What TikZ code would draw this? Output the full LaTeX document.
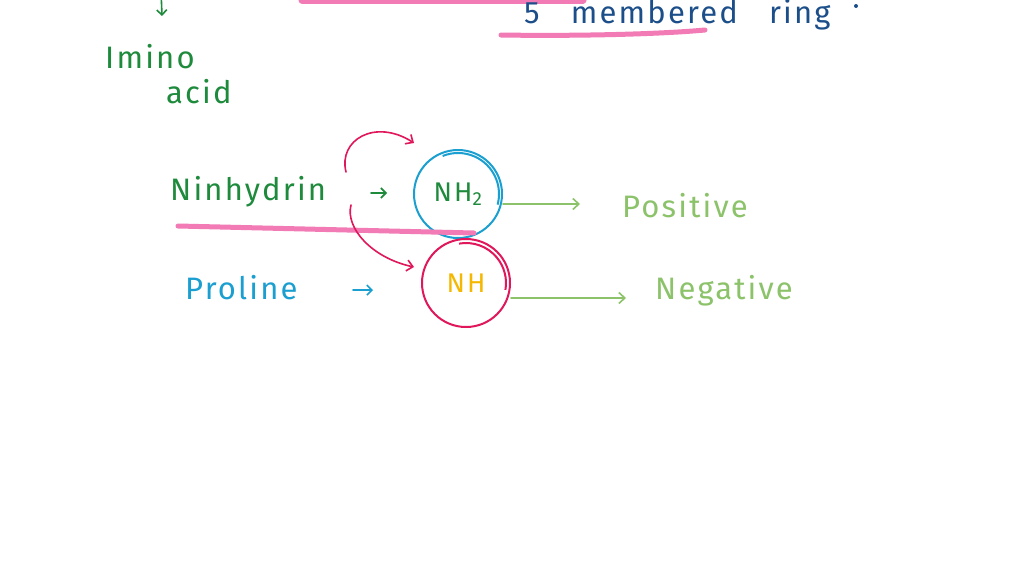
\documentclass[tikz,border=0pt]{standalone}
\usepackage{fontspec}
\setmainfont{Fira Sans}
\usetikzlibrary{arrows.meta}
\definecolor{dgreen}{HTML}{1E8A3C}
\definecolor{lgreen}{HTML}{8CC36A}
\definecolor{lblue}{HTML}{1A9FD0}
\definecolor{rred}{HTML}{E0175A}
\definecolor{hpink}{HTML}{F27BB5}
\definecolor{oyel}{HTML}{F5B800}
\definecolor{dblue}{HTML}{1C4F8A}
\tikzset{
  x=1pt,y=-1pt,
  hand/.style={font=\fontsize{31}{33}\selectfont\addfontfeatures{LetterSpace=7}, inner sep=0pt},
  small/.style={font=\fontsize{27}{29}\selectfont\addfontfeatures{LetterSpace=8}, inner sep=0pt},
  harrow/.style={line width=1.6pt, -{Straight Barb[length=6pt,width=11pt]}, line cap=round},
  sarrow/.style={line width=1.6pt, -{Straight Barb[length=5pt,width=10pt]}, line cap=round},
  hilite/.style={line width=5pt, hpink, line cap=round},
  ring/.style={circle, line width=2pt, minimum size=88pt, inner sep=0pt}
}
\begin{document}
\begin{tikzpicture}
\useasboundingbox (0,0) rectangle (1024,576);
\clip (0,0) rectangle (1024,576);
\fill[white] (0,0) rectangle (1024,576);
% top
\coordinate (ta) at (161,-10);
\coordinate (tb) at (162,16);
\draw[sarrow, dgreen] (ta) -- (tb);
\coordinate (p1) at (302,0);
\coordinate (p2) at (583,0);
\draw[hilite, line width=7pt] (p1) -- (p2);
\node[hand, dblue, anchor=west] (ring) at (524,15) {5\ \ \ membered\ \ \ ring};
\node[circle, fill=dblue, inner sep=0pt, minimum size=4pt] (dot) at (856,6) {};
\coordinate (u1) at (501,35);
\coordinate (u2) at (705,30);
\draw[hilite] (u1) .. controls (560,36) and (650,35) .. (u2);
\node[hand, dgreen, anchor=west] (imino) at (105,57) {Imino};
\node[hand, dgreen, anchor=west] (acid) at (166,92) {acid};
% Ninhydrin row
\node[hand, dgreen, anchor=west] (nin) at (170,192) {Ninhydrin};
\node[ring, draw=lblue] (nh2) at (458,194) {};
\node[small, dgreen] (nh2t) at (nh2) {NH\textsubscript{2}};
\draw[line width=2pt, lblue] (nh2) ++(-112:41) arc[start angle=-112, end angle=15, radius=41];
\coordinate (na) at (371,193);
\coordinate (nb) at (387,193);
\draw[sarrow, dgreen] (na) -- (nb);
\coordinate (pa) at (580,204);
\draw[harrow, lgreen] (nh2.east |- pa) -- (pa);
\node[hand, lgreen, anchor=west] (pos) at (622,206) {Positive};
\coordinate (h1) at (178,226);
\coordinate (h2) at (474,233);
\draw[hilite] (h1) -- (h2);
% Proline row
\node[ring, draw=rred] (nh) at (466,283) {};
\node[small, oyel] (nht) at (nh) {NH};
\draw[line width=2pt, rred] (nh) ++(-100:40) arc[start angle=-100, end angle=10, radius=40];
\node[hand, lblue, anchor=west] (pro) at (185,288) {Proline};
\coordinate (pra) at (353,290);
\coordinate (prb) at (373,290);
\draw[sarrow, lblue] (pra) -- (prb);
\coordinate (ne) at (626,298);
\draw[harrow, lgreen] (nh.east |- ne) -- (ne);
\node[hand, lgreen, anchor=west] (neg) at (655,291) {Negative};
% red curved arrows
\coordinate (c0) at (346,172);
\coordinate (c1) at (414,143);
\draw[harrow, rred] (c0) .. controls (338,140) and (375,118) .. (c1);
\coordinate (d0) at (351,205);
\coordinate (d1) at (414,267);
\draw[harrow, rred] (d0) .. controls (345,228) and (372,258) .. (d1);
\end{tikzpicture}
\end{document}
